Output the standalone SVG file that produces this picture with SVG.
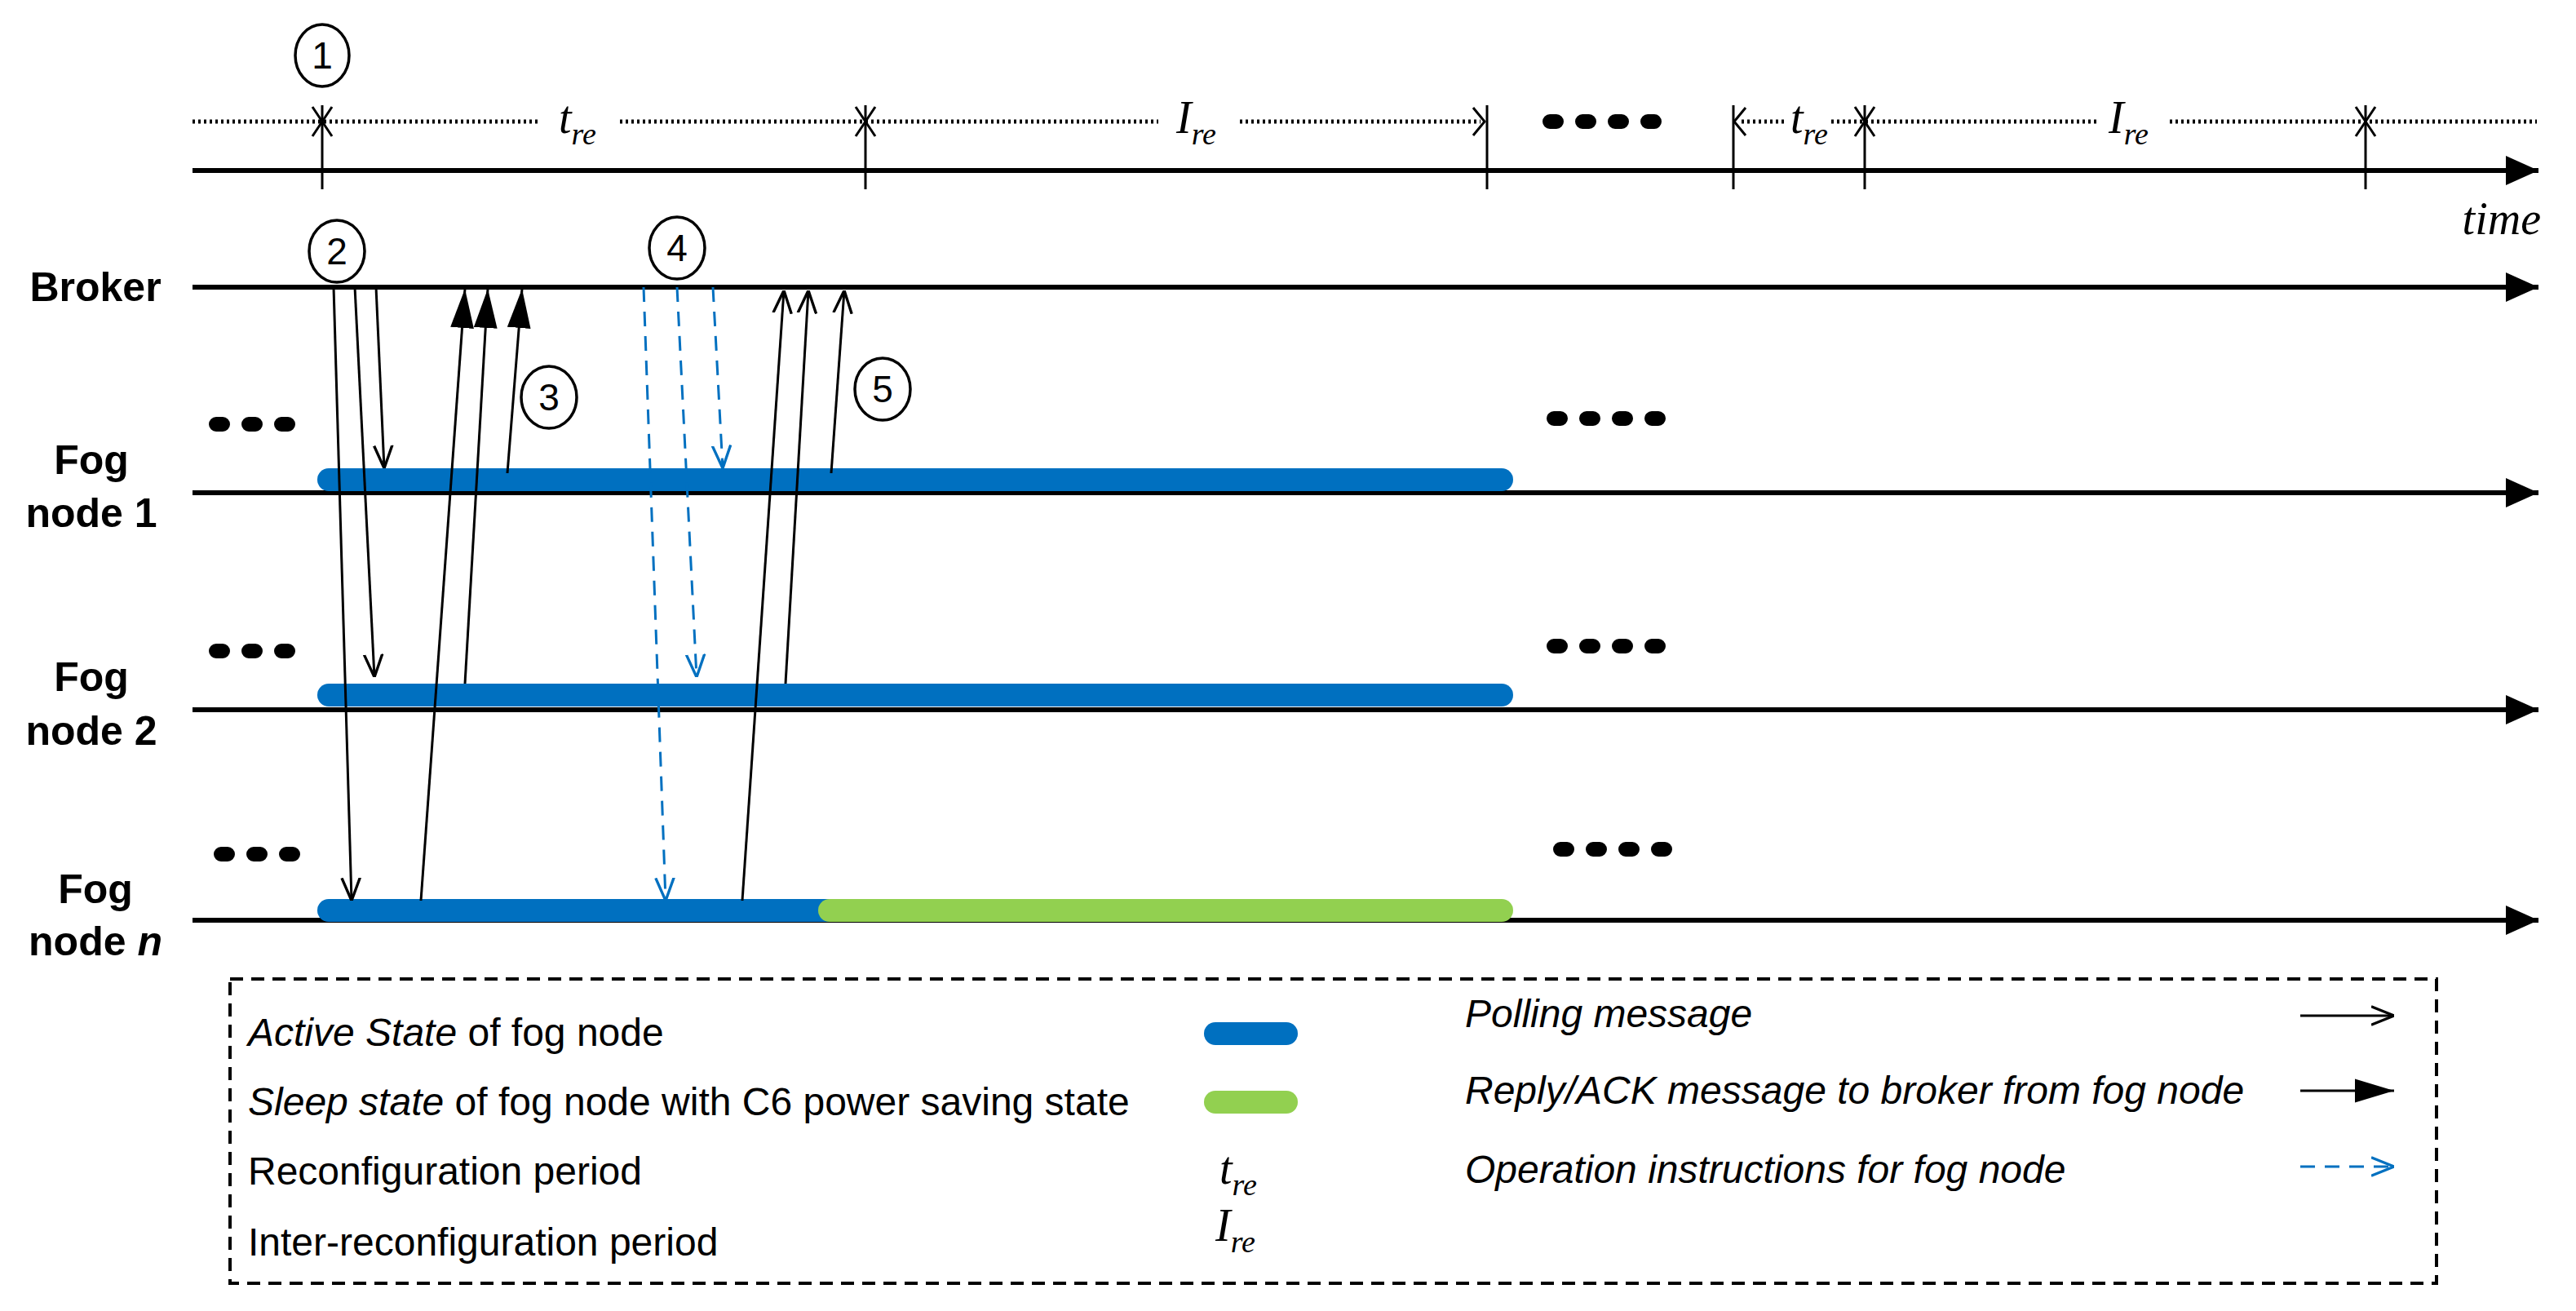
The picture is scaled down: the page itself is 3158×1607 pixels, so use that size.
<svg xmlns="http://www.w3.org/2000/svg" width="3158" height="1607" viewBox="0 0 3158 1607">
<defs>
<style>
.ax{stroke:#000;stroke-width:6;fill:none}
.dot{stroke:#000;stroke-width:5;stroke-dasharray:3 4;fill:none}
.tk{stroke:#000;stroke-width:3}
.lbl{font-family:"Liberation Sans",Arial,sans-serif;font-weight:bold;font-size:50px;text-anchor:middle}
.num{font-family:"Liberation Sans",Arial,sans-serif;font-size:46px;text-anchor:middle}
.sym{font-family:"Liberation Serif","Times New Roman",serif;font-style:italic}
.leg{font-family:"Liberation Sans",Arial,sans-serif;font-size:48px}
.it{font-style:italic}
.msg{stroke:#000;stroke-width:3;fill:none}
.op{stroke:#0070C0;stroke-width:3;stroke-dasharray:18 12;fill:none}
.blue{stroke:#0070C0;stroke-width:28;stroke-linecap:round}
.green{stroke:#92D050;stroke-width:28;stroke-linecap:round}
.dots{stroke:#000;stroke-width:18;stroke-linecap:round;stroke-dasharray:8 32}
</style>
<marker id="ah" viewBox="0 0 10 10" markerWidth="40" markerHeight="40" refX="10" refY="5" orient="auto" markerUnits="userSpaceOnUse"><path d="M0,0.5 L10,5 L0,9.5 z" fill="#000"/></marker>
<marker id="fill" viewBox="0 0 10 10" markerWidth="48" markerHeight="48" refX="10" refY="5" orient="auto" markerUnits="userSpaceOnUse"><path d="M0,2 L10,5 L0,8 z" fill="#000"/></marker>
<marker id="open" viewBox="0 0 10 10" markerWidth="28" markerHeight="28" refX="10" refY="5" orient="auto" markerUnits="userSpaceOnUse"><path d="M0,1 L10,5 L0,9" fill="none" stroke="#000" stroke-width="1.2"/></marker>
<marker id="openb" viewBox="0 0 10 10" markerWidth="28" markerHeight="28" refX="10" refY="5" orient="auto" markerUnits="userSpaceOnUse"><path d="M0,1 L10,5 L0,9" fill="none" stroke="#0070C0" stroke-width="1.2"/></marker>
</defs>

<g id="timeline">
<line class="ax" x1="236" y1="209" x2="3112" y2="209" marker-end="url(#ah)"/>
<path class="dot" d="M236,149 H660 M760,149 H1420 M1520,149 H1815 M2135,149 H2190 M2245,149 H2570 M2660,149 H3110"/>
<path d="M1806,132 L1820,149 L1806,166 M2140,132 L2126,149 L2140,166" class="msg"/>
<g class="tk">
<line x1="395" y1="129" x2="395" y2="232"/><line x1="1061" y1="129" x2="1061" y2="232"/>
<line x1="1823" y1="129" x2="1823" y2="232"/><line x1="2125" y1="129" x2="2125" y2="232"/>
<line x1="2286" y1="129" x2="2286" y2="232"/><line x1="2900" y1="129" x2="2900" y2="232"/>
</g>
<path class="msg" d="M383,131 L407,167 M407,131 L383,167 M1049,131 L1073,167 M1073,131 L1049,167 M2274,131 L2298,167 M2298,131 L2274,167 M2888,131 L2912,167 M2912,131 L2888,167"/>
<g class="sym">
<text x="685" y="163" font-size="56">t<tspan font-size="38" dy="14">re</tspan></text>
<text x="1442" y="163" font-size="56">I<tspan font-size="38" dy="14">re</tspan></text>
<text x="2195" y="163" font-size="56">t<tspan font-size="38" dy="14">re</tspan></text>
<text x="2585" y="163" font-size="56">I<tspan font-size="38" dy="14">re</tspan></text>
<text x="3115" y="287" font-size="56" text-anchor="end">time</text>
</g>
<line class="dots" x1="1900" y1="149" x2="2028" y2="149"/>
</g>

<g id="broker">
<line class="ax" x1="236" y1="352" x2="3112" y2="352" marker-end="url(#ah)"/>
<text class="lbl" x="117" y="369">Broker</text>
</g>
<g id="fog1">
<line class="ax" x1="236" y1="604" x2="3112" y2="604" marker-end="url(#ah)"/>
<line class="blue" x1="403" y1="588" x2="1841" y2="588"/>
<text class="lbl" x="112" y="581">Fog</text><text class="lbl" x="112" y="646">node 1</text>
<line class="dots" x1="265" y1="520" x2="355" y2="520"/>
<line class="dots" x1="1905" y1="513" x2="2033" y2="513"/>
</g>
<g id="fog2">
<line class="ax" x1="236" y1="870" x2="3112" y2="870" marker-end="url(#ah)"/>
<line class="blue" x1="403" y1="852" x2="1841" y2="852"/>
<text class="lbl" x="112" y="847">Fog</text><text class="lbl" x="112" y="913">node 2</text>
<line class="dots" x1="265" y1="798" x2="355" y2="798"/>
<line class="dots" x1="1905" y1="792" x2="2033" y2="792"/>
</g>
<g id="fogn">
<line class="ax" x1="236" y1="1128" x2="3112" y2="1128" marker-end="url(#ah)"/>
<line class="blue" x1="403" y1="1116" x2="1017" y2="1116"/>
<line class="green" x1="1017" y1="1116" x2="1841" y2="1116"/>
<text class="lbl" x="117" y="1107">Fog</text><text class="lbl" x="117" y="1171">node <tspan font-style="italic">n</tspan></text>
<line class="dots" x1="271" y1="1047" x2="361" y2="1047"/>
<line class="dots" x1="1913" y1="1041" x2="2041" y2="1041"/>
</g>

<g id="steps" fill="#fff" stroke="#000" stroke-width="3.5">
<ellipse cx="395" cy="68" rx="33" ry="38"/><ellipse cx="413" cy="308" rx="34" ry="38"/>
<ellipse cx="673" cy="487" rx="34" ry="38"/><ellipse cx="830" cy="304" rx="34" ry="38"/>
<ellipse cx="1082" cy="477" rx="34" ry="38"/>
</g>
<g class="num">
<text x="395" y="84">1</text><text x="413" y="324">2</text><text x="673" y="503">3</text><text x="830" y="320">4</text><text x="1082" y="493">5</text>
</g>

<g id="connectors">
<line class="msg" x1="409" y1="352" x2="431" y2="1104" marker-end="url(#open)"/>
<line class="msg" x1="435" y1="352" x2="459" y2="830" marker-end="url(#open)"/>
<line class="msg" x1="461" y1="352" x2="471" y2="574" marker-end="url(#open)"/>
<line class="msg" x1="516" y1="1104" x2="570" y2="354" marker-end="url(#fill)"/>
<line class="msg" x1="570" y1="838" x2="598" y2="354" marker-end="url(#fill)"/>
<line class="msg" x1="622" y1="580" x2="640" y2="354" marker-end="url(#fill)"/>
<line class="op" x1="789" y1="352" x2="816" y2="1104" marker-end="url(#openb)"/>
<line class="op" x1="830" y1="352" x2="854" y2="830" marker-end="url(#openb)"/>
<line class="op" x1="874" y1="352" x2="886" y2="574" marker-end="url(#openb)"/>
<line class="msg" x1="910" y1="1104" x2="961" y2="356" marker-end="url(#open)"/>
<line class="msg" x1="963" y1="838" x2="991" y2="356" marker-end="url(#open)"/>
<line class="msg" x1="1019" y1="580" x2="1035" y2="356" marker-end="url(#open)"/>
</g>

<g id="legend">
<rect x="282" y="1200" width="2705" height="373" fill="none" stroke="#000" stroke-width="4" stroke-dasharray="16 10"/>
<text class="leg" x="304" y="1282"><tspan class="it">Active State</tspan> of fog node</text>
<text class="leg" x="304" y="1367">
<tspan class="it">Sleep state</tspan> of fog node with C6 power saving state</text>
<text class="leg" x="304" y="1452">Reconfiguration period</text>
<text class="leg" x="304" y="1539">Inter-reconfiguration period</text>
<line class="blue" x1="1490" y1="1267" x2="1577" y2="1267"/>
<line class="green" x1="1490" y1="1351" x2="1577" y2="1351"/>
<text class="sym" x="1495" y="1451" font-size="56">t<tspan font-size="38" dy="14">re</tspan></text>
<text class="sym" x="1490" y="1521" font-size="56">I<tspan font-size="38" dy="14">re</tspan></text>
<text class="leg it" x="1796" y="1259">Polling message</text>
<text class="leg it" x="1796" y="1353">Reply/ACK message to broker from fog node</text>
<text class="leg it" x="1796" y="1450">Operation instructions for fog node</text>
<line class="msg" x1="2820" y1="1245" x2="2935" y2="1245" marker-end="url(#open)"/>
<line class="msg" x1="2820" y1="1337" x2="2935" y2="1337" stroke-width="5" marker-end="url(#fill)"/>
<line class="op" x1="2820" y1="1430" x2="2935" y2="1430" stroke-dasharray="14 8" marker-end="url(#openb)"/>
</g>
</svg>
